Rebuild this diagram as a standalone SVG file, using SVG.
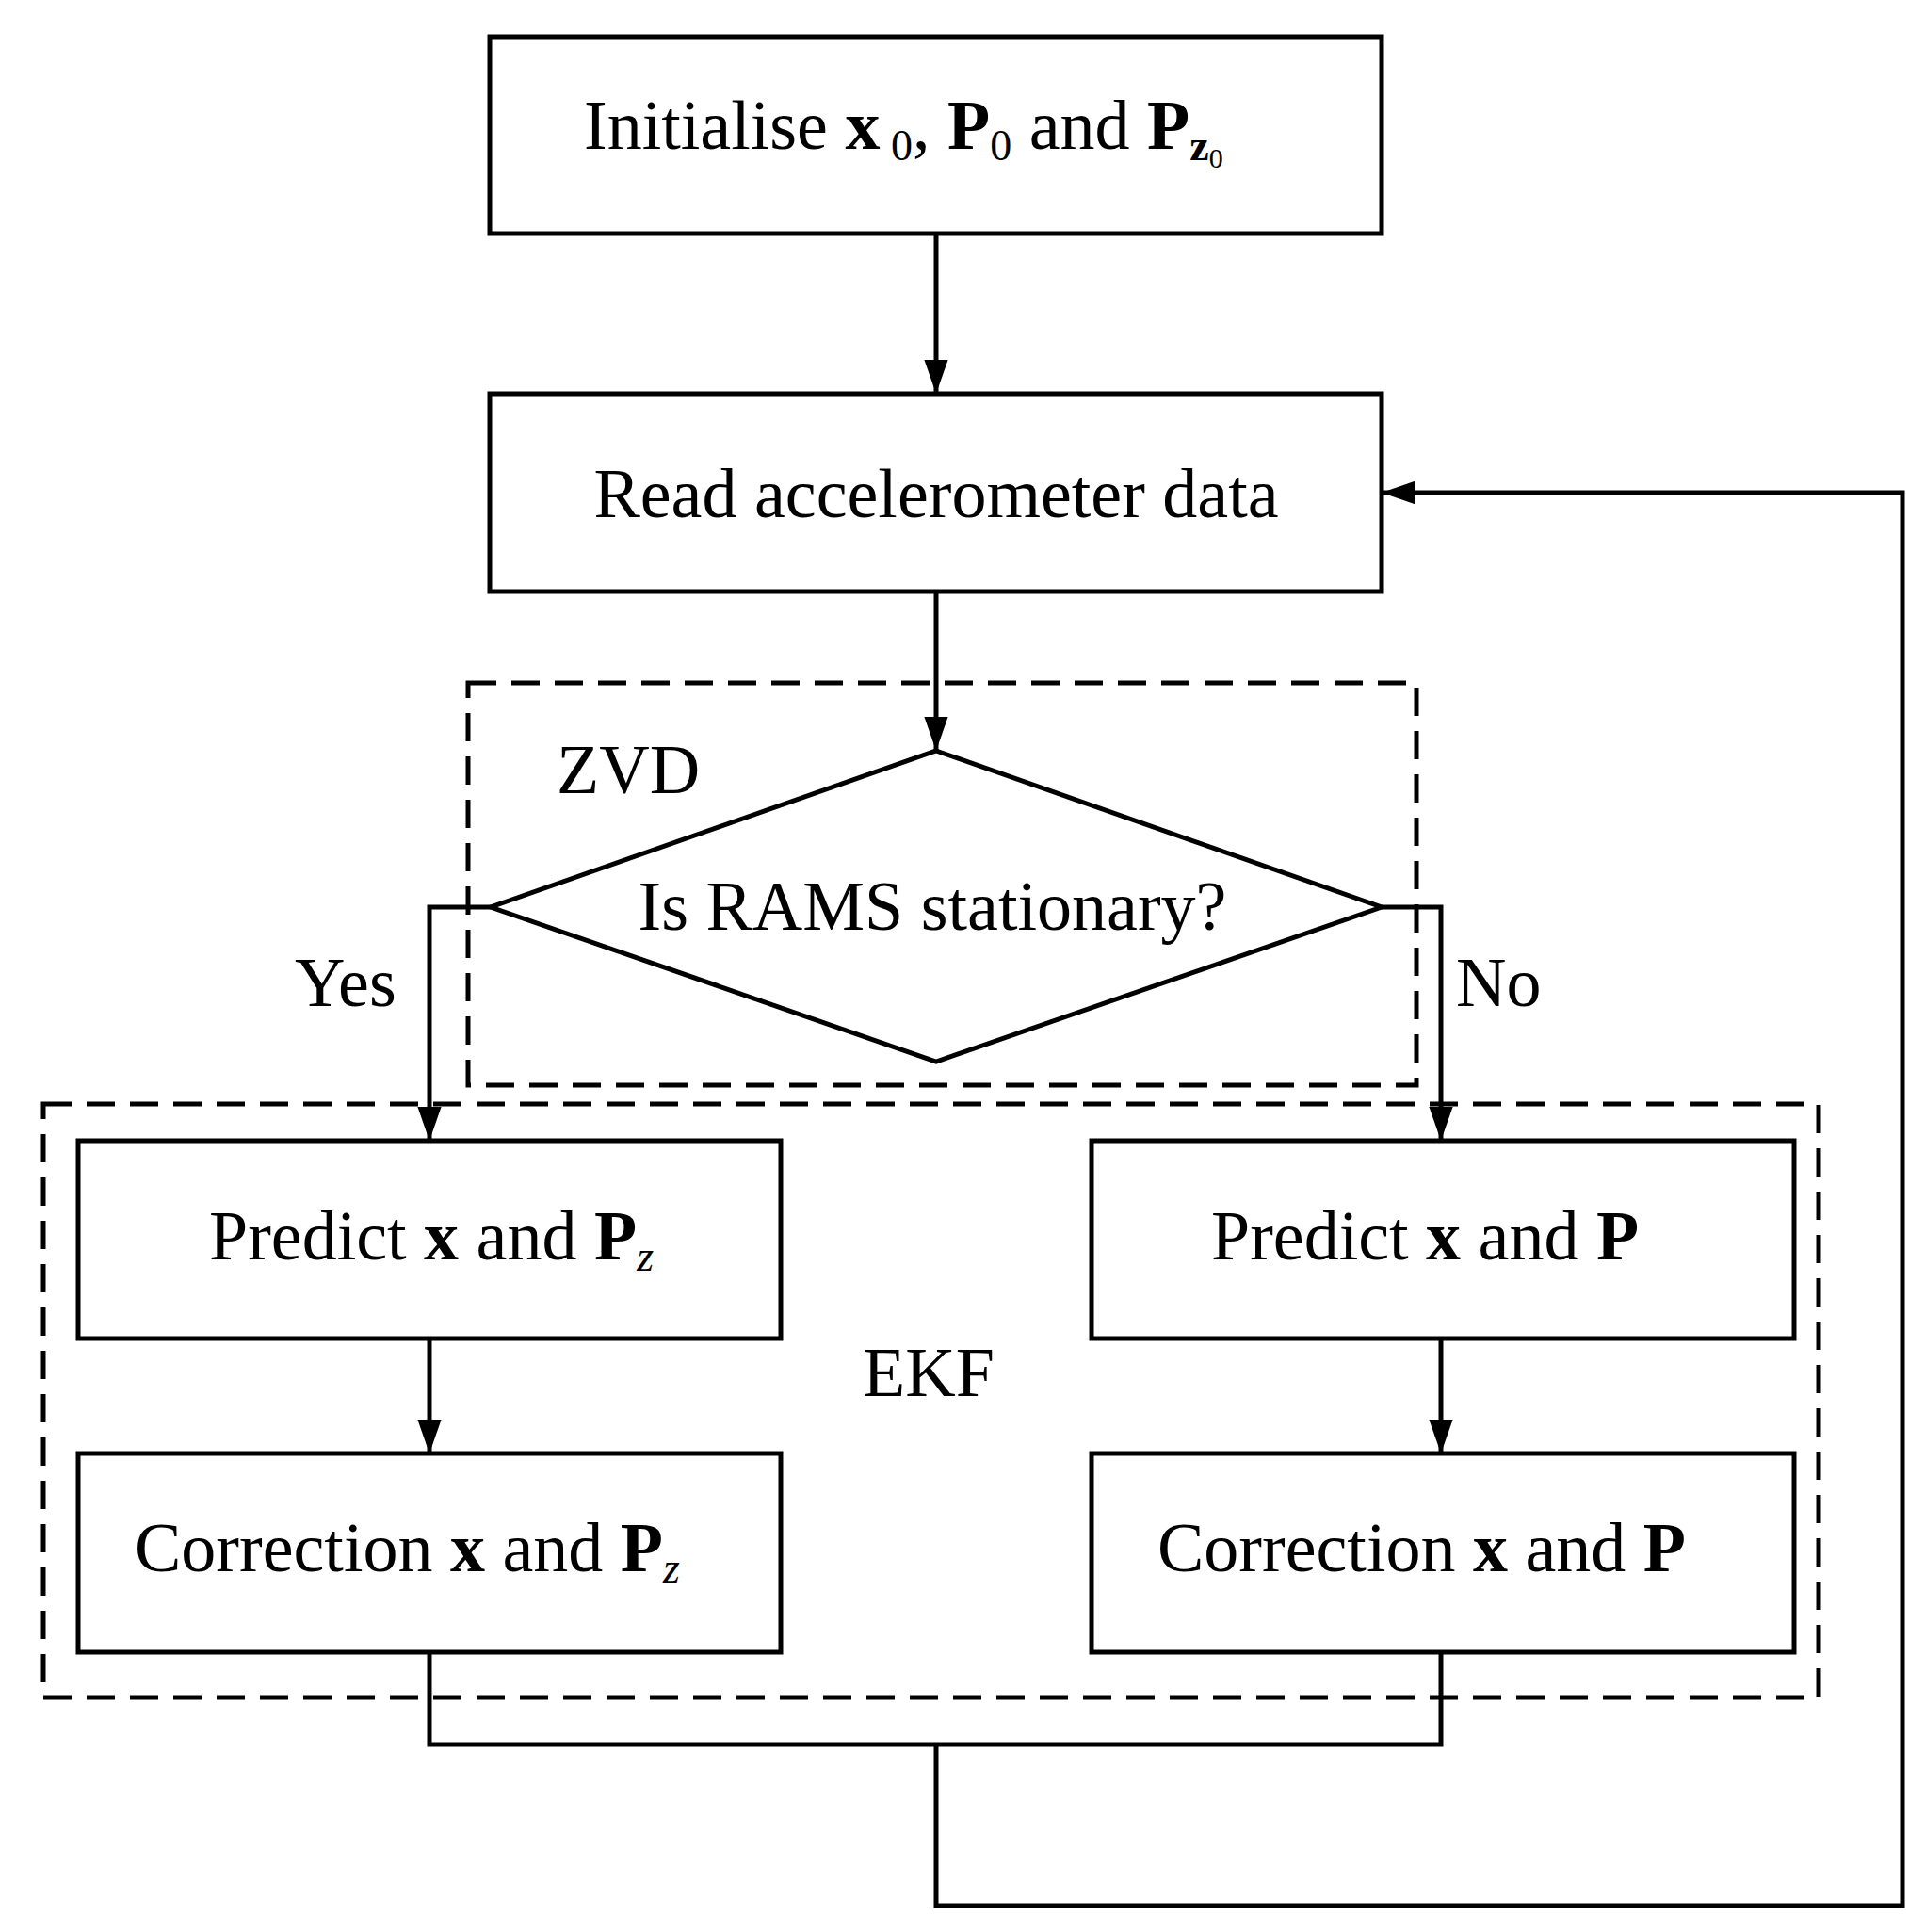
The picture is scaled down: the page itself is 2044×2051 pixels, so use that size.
<svg xmlns="http://www.w3.org/2000/svg" width="2044" height="2051" viewBox="0 0 2044 2051">
<style>
.box{fill:#fff;stroke:#000;stroke-width:5}
.dash{fill:none;stroke:#000;stroke-width:5;stroke-dasharray:30,16}
.ln{fill:none;stroke:#000;stroke-width:5}
text{font-family:"Liberation Serif","Times New Roman",serif;font-size:74px;fill:#000}
.c{text-anchor:middle}
.b{font-weight:bold}
.s{font-size:46px}
</style>
<defs>
<marker id="a" viewBox="0 0 10 10" refX="10" refY="5" markerWidth="36" markerHeight="36" markerUnits="userSpaceOnUse" orient="auto"><path d="M0,1.5L10,5L0,8.5z" fill="#000"/></marker></defs>
<rect class="dash" x="497" y="725" width="1007" height="427"/>
<rect class="dash" x="46" y="1172" width="1885" height="630"/>
<g id="connectors">
<path class="ln" d="M994,248V418" marker-end="url(#a)"/>
<path class="ln" d="M994,628V797" marker-end="url(#a)"/>
<path class="ln" d="M521,963H456V1211" marker-end="url(#a)"/>
<path class="ln" d="M1467,963H1530V1211" marker-end="url(#a)"/>
<path class="ln" d="M456,1421V1543" marker-end="url(#a)"/>
<path class="ln" d="M1530,1421V1543" marker-end="url(#a)"/>
<path class="ln" d="M456,1754V1852H1530V1754M994,1852V2023H2020V523H1467" marker-end="url(#a)"/>
</g>
<g id="init"><rect class="box" x="520" y="39" width="947" height="209"/>
<text x="620" y="158">Initialise <tspan class="b">x</tspan><tspan class="s" dy="12"> 0</tspan><tspan dy="-12">, </tspan><tspan class="b">P</tspan><tspan class="s" dy="12">0</tspan><tspan dy="-12">  and  </tspan><tspan class="b">P</tspan><tspan class="s b" dy="12">z</tspan><tspan style="font-size:30px" dy="8">0</tspan></text></g>
<g id="read"><rect class="box" x="520" y="418" width="947" height="210"/>
<text class="c" x="994" y="549">Read accelerometer  data</text></g>
<g id="zvd"><path class="box" d="M994,797L1467,963L994,1127L521,963Z"/>
<text class="c" x="990" y="987">Is RAMS stationary?</text>
<text x="591" y="842">ZVD</text></g>
<text x="313" y="1068">Yes</text>
<text x="1546" y="1068">No</text>
<text x="916" y="1482">EKF</text>
<g id="predL"><rect class="box" x="83" y="1211" width="746" height="210"/>
<text x="222" y="1337">Predict <tspan class="b">x</tspan>  and  <tspan class="b">P</tspan><tspan class="s" font-style="italic" dy="12">z</tspan></text></g>
<g id="corrL"><rect class="box" x="83" y="1543" width="746" height="211"/>
<text x="143" y="1668">Correction <tspan class="b">x</tspan>  and  <tspan class="b">P</tspan><tspan class="s" font-style="italic" dy="12">z</tspan></text></g>
<g id="predR"><rect class="box" x="1159" y="1211" width="746" height="210"/>
<text x="1286" y="1337">Predict <tspan class="b">x</tspan>  and  <tspan class="b">P</tspan></text></g>
<g id="corrR"><rect class="box" x="1159" y="1543" width="746" height="211"/>
<text x="1229" y="1668">Correction <tspan class="b">x</tspan>  and  <tspan class="b">P</tspan></text></g>
</svg>
